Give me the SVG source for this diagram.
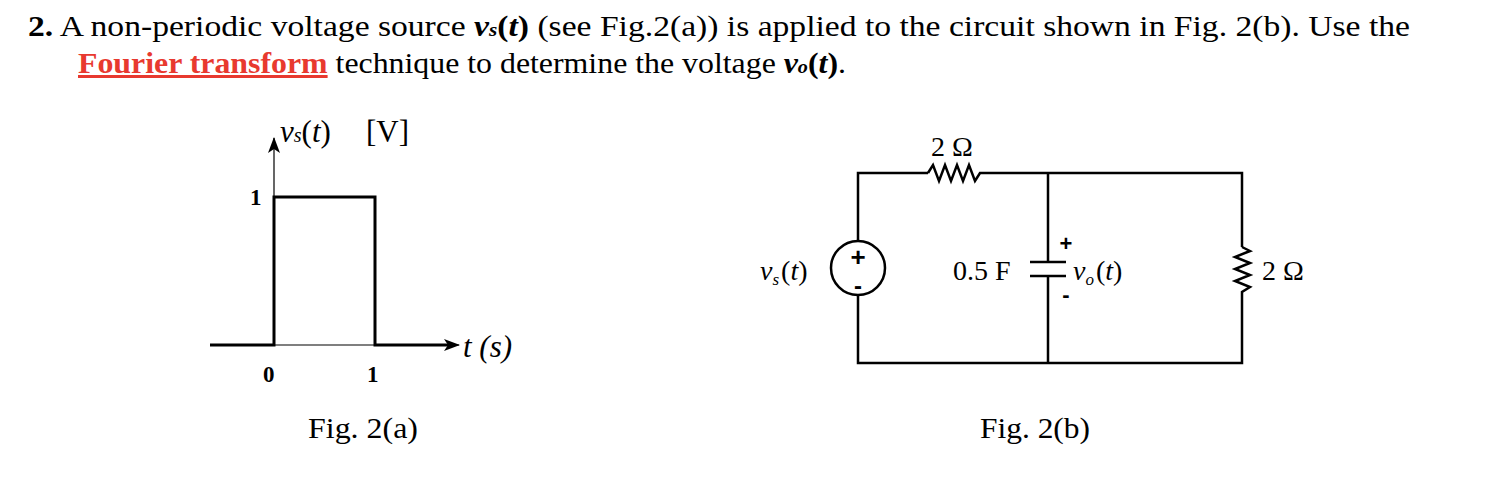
<svg xmlns="http://www.w3.org/2000/svg" width="1494" height="486" viewBox="0 0 1494 486">
<style>
.t{font-family:"Liberation Serif",serif;fill:#000}
.w{stroke:#000;stroke-width:2.5;fill:none}
.s{font-family:"Liberation Sans",sans-serif;font-weight:bold}
</style>
<defs><marker id="a" markerWidth="16" markerHeight="12" refX="15" refY="6" orient="auto" markerUnits="userSpaceOnUse"><path d="M0,0L16,6L0,12L4,6z" fill="#000"/></marker></defs>
<rect width="1494" height="486" fill="#fff"/>
<g id="question">
<text class="t" x="28" y="36" font-size="30" textLength="1382" lengthAdjust="spacingAndGlyphs"><tspan font-weight="bold">2.</tspan>  A non-periodic voltage source <tspan font-weight="bold" font-style="italic">v</tspan><tspan font-weight="bold" font-style="italic" font-size="19">s</tspan><tspan font-weight="bold">(<tspan font-style="italic">t</tspan>)</tspan> (see Fig.2(a)) is applied to the circuit shown in Fig. 2(b). Use the</text>
<text class="t" x="78" y="73" font-size="30" textLength="768" lengthAdjust="spacingAndGlyphs"><tspan font-weight="bold" fill="#e8392f" text-decoration="underline">Fourier transform</tspan> technique to determine the voltage <tspan font-weight="bold" font-style="italic">v</tspan><tspan font-weight="bold" font-style="italic" font-size="19">o</tspan><tspan font-weight="bold">(<tspan font-style="italic">t</tspan>)</tspan>.</text>
</g>
<g id="graph">
<line x1="274" y1="345" x2="274" y2="138" stroke="#000" stroke-width="1.2" marker-end="url(#a)"/>
<line x1="210" y1="345" x2="459" y2="345" stroke="#000" stroke-width="1.2" marker-end="url(#a)"/>
<path d="M210,345H274V197H375V345H448" stroke="#000" stroke-width="3" fill="none"/>
<text class="t" x="280" y="142" font-size="31"><tspan font-style="italic">v</tspan><tspan font-style="italic" font-size="20">s</tspan>(<tspan font-style="italic">t</tspan>)</text>
<text class="t" x="366" y="142" font-size="31">[V]</text>
<text class="t" x="250" y="205" font-size="23" font-weight="bold">1</text>
<text class="t" x="263" y="382" font-size="23" font-weight="bold">0</text>
<text class="t" x="367" y="382" font-size="23" font-weight="bold">1</text>
<text class="t" x="463" y="357" font-size="31" font-style="italic">t (s)</text>
<text class="t" x="308" y="438" font-size="30" textLength="110" lengthAdjust="spacingAndGlyphs">Fig. 2(a)</text>
</g>
<g id="connectors">
<path class="w" d="M858,241V173H928M985,173H1242V247M1242,297V363H858V295M1048,173V262M1048,276V363"/>
</g>
<g id="R1"><path class="w" d="M928,173L933,165L939,181L945,165L951,181L957,165L963,181L969,165L975,181L980,173H985"/>
<text class="t" x="931" y="156" font-size="28">2 Ω</text></g>
<g id="R2"><path class="w" d="M1242,247L1250,251L1235,257L1250,263L1235,269L1250,275L1235,281L1250,287L1242,292V297"/>
<text class="t" x="1262" y="280" font-size="28">2 Ω</text></g>
<g id="Vs"><circle class="w" cx="858" cy="268" r="27"/>
<text class="s" x="858" y="266" font-size="26" text-anchor="middle">+</text>
<text class="s" x="858" y="294" font-size="24" text-anchor="middle">-</text>
<text class="t" x="760" y="280" font-size="28"><tspan font-style="italic">v</tspan><tspan font-style="italic" font-size="17" dy="5">s</tspan><tspan dy="-5" dx="2">(</tspan><tspan font-style="italic">t</tspan>)</text></g>
<g id="C"><path class="w" d="M1030,262H1066M1030,276H1066"/>
<text class="t" x="953" y="280" font-size="28">0.5 F</text>
<text class="s" x="1066" y="251" font-size="22" text-anchor="middle">+</text>
<text class="s" x="1066" y="302" font-size="22" text-anchor="middle">-</text>
<text class="t" x="1073" y="280" font-size="28"><tspan font-style="italic">v</tspan><tspan font-style="italic" font-size="17" dy="5">o</tspan><tspan dy="-5" dx="2">(</tspan><tspan font-style="italic">t</tspan>)</text>
<text class="t" x="980" y="438" font-size="30" textLength="110" lengthAdjust="spacingAndGlyphs">Fig. 2(b)</text></g>
</svg>
